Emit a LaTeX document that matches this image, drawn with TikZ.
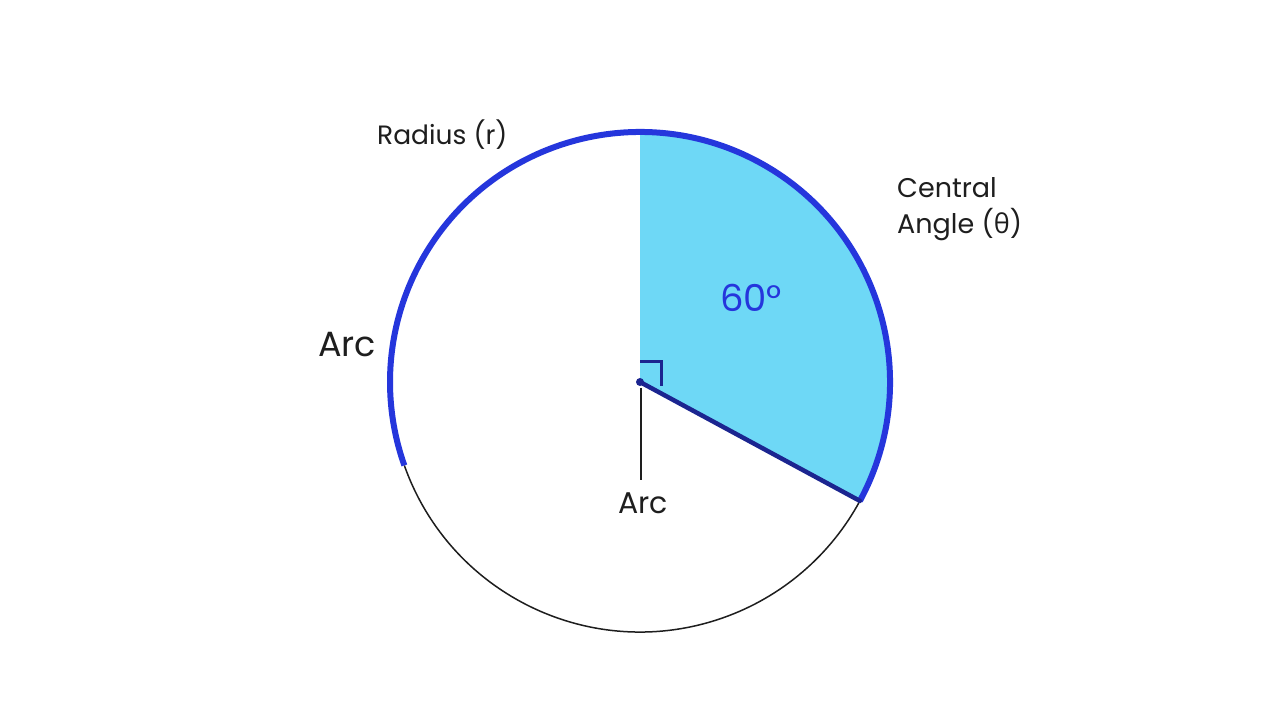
\documentclass[tikz,border=0pt]{standalone}
\usepackage{fontspec}
\setmainfont{Poppins}
\newfontfamily\greekfont{Open Sans}
\definecolor{arcblue}{HTML}{2536DC}
\definecolor{sectfill}{HTML}{6ED8F6}
\definecolor{navy}{HTML}{1B2590}
\definecolor{txt}{HTML}{1E1E1E}
\begin{document}
\begin{tikzpicture}[x=1pt,y=1pt,
  lbl/.style={text=txt,inner sep=0pt,font=\fontsize{26.5}{30}\selectfont},
  biglbl/.style={text=txt,inner sep=0pt,font=\fontsize{35}{40}\selectfont},
  smalllbl/.style={text=txt,inner sep=0pt,font=\fontsize{30}{34}\selectfont},
  anglbl/.style={text=arcblue,inner sep=0pt,font=\fontsize{37}{40}\selectfont},
  thinline/.style={draw=txt,line width=1.5pt},
  bluearc/.style={draw=arcblue,line width=6pt},
  radline/.style={draw=navy,line width=4.5pt,line cap=round}]
\useasboundingbox (0,0) rectangle (1280,720);
\fill[white] (0,0) rectangle (1280,720);
\coordinate (c) at (640,338);
% sector
\fill[sectfill] (c) -- ([shift={(c)}]90:250) arc[start angle=90,end angle=-28.4,radius=250] -- cycle;
% thin remainder of circle
\draw[thinline] ([shift={(c)}]199.5:250) arc[start angle=199.5,end angle=331.6,radius=250];
% thick blue arc
\draw[bluearc] ([shift={(c)}]-28.4:250) arc[start angle=-28.4,end angle=199.5,radius=250];
% radius line
\coordinate (p) at ([shift={(c)}]-28.4:250);
\draw[radline] (c) -- (p);
\fill[navy] (c) circle[radius=4];
% right angle marker
\draw[navy,line width=3pt] ([shift={(c)}]0,20) -- ++(21,0) -- ++(0,-24);
% labels
\node[lbl,anchor=base west] (radius) at (377,575) {Radius (r)};
\node[lbl,font=\fontsize{27}{30}\selectfont,anchor=base west] (central) at (897,522) {Central};
\node[lbl,font=\fontsize{27}{30}\selectfont,anchor=base west] (angle) at (897,486) {Angle ({\greekfont θ})};
\node[anglbl] (sixty) at (751,422) {60°};
\node[biglbl] (arcbig) at (347,375) {Arc};
\node[smalllbl,anchor=base] (arcsmall) at (643,206) {Arc};
\coordinate (ltop) at ([shift={(1,-6)}]c);
\coordinate (lbot) at (641,240);
\draw[thinline,line width=1.3pt] (ltop) -- (lbot);
\end{tikzpicture}
\end{document}
